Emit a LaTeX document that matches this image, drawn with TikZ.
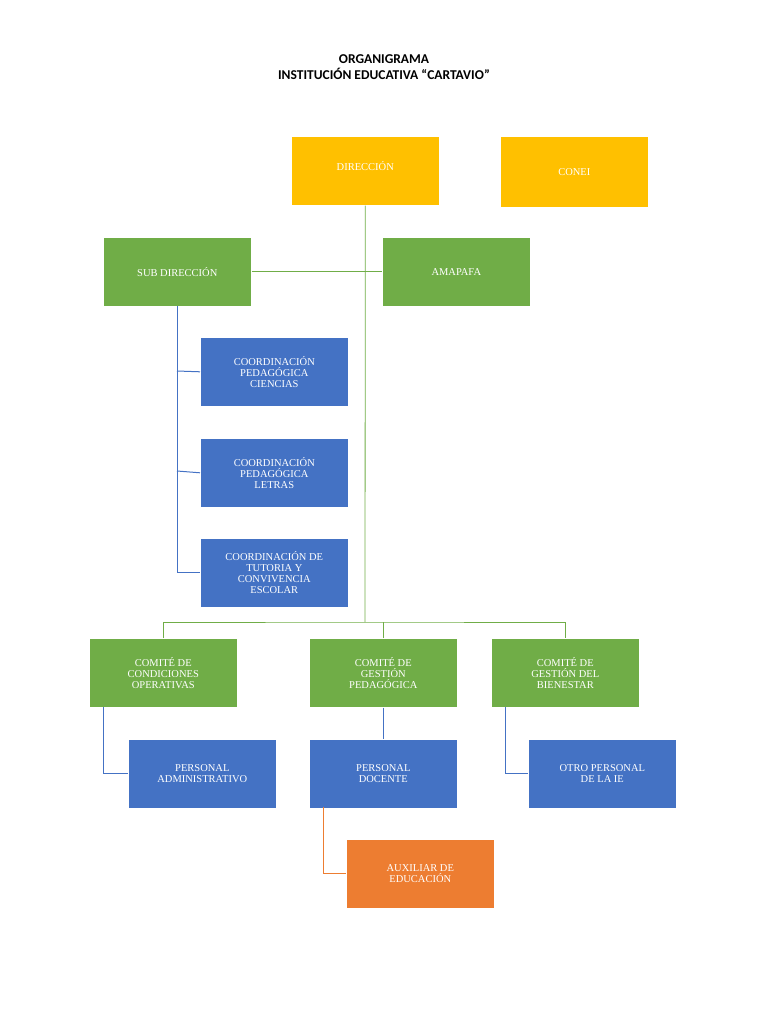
\documentclass[tikz,border=0pt]{standalone}
\usepackage{fontspec}
\setmainfont{Liberation Serif}
\newfontfamily\titlefont{Carlito}
\definecolor{cyel}{HTML}{FFC000}
\definecolor{cgrn}{HTML}{70AD47}
\definecolor{cblu}{HTML}{4472C4}
\definecolor{cora}{HTML}{ED7D31}
\begin{document}
\begin{tikzpicture}[x=1pt,y=-1pt,
 bx/.style={draw=white,line width=0.6pt,minimum width=148pt,minimum height=69pt,inner sep=2pt,
  text=white,align=center,font=\fontsize{10.5}{11}\selectfont,anchor=north west},
 yb/.style={bx,fill=cyel},gb/.style={bx,fill=cgrn},bb/.style={bx,fill=cblu},ob/.style={bx,fill=cora},
 gl/.style={draw=cgrn,line width=0.8pt},bl/.style={draw=cblu,line width=1pt},ol/.style={draw=cora,line width=0.8pt}]
\useasboundingbox (0,0) rectangle (768,1024);
\node[font=\titlefont\bfseries\fontsize{13.5}{16}\selectfont,align=center] (title) at (384,67) {ORGANIGRAMA\\INSTITUCIÓN EDUCATIVA “CARTAVIO”};
\node[yb,text depth=10pt] (dir) at (291,136) {DIRECCIÓN};
\node[yb,minimum height=71pt] (conei) at (500,136) {CONEI};
\node[gb] (sub) at (103,237) {SUB DIRECCIÓN};
\node[gb] (ama) at (382,237) {AMAPAFA};
\node[bb] (c1) at (200,337) {COORDINACIÓN\\PEDAGÓGICA\\CIENCIAS};
\node[bb] (c2) at (200,438) {COORDINACIÓN\\PEDAGÓGICA\\LETRAS};
\node[bb] (c3) at (200,538) {COORDINACIÓN DE\\TUTORIA Y\\CONVIVENCIA\\ESCOLAR};
\node[gb] (k1) at (89,638) {COMITÉ DE\\CONDICIONES\\OPERATIVAS};
\node[gb] (k2) at (309,638) {COMITÉ DE\\GESTIÓN\\PEDAGÓGICA};
\node[gb] (k3) at (491,638) {COMITÉ DE\\GESTIÓN DEL\\BIENESTAR};
\node[bb] (p1) at (128,739) {PERSONAL\\ADMINISTRATIVO};
\node[bb] (p2) at (309,739) {PERSONAL\\DOCENTE};
\node[bb] (p3) at (528,739) {OTRO PERSONAL\\DE LA IE};
\node[ob] (aux) at (346,839) {AUXILIAR DE\\EDUCACIÓN};
\coordinate (j) at (365,622);
\draw[gl] (dir.south) -- (j);
\draw[gl] (sub.east) -- (ama.west);
\draw[gl] (k1.north) |- (j) -| (k3.north);
\draw[gl] (k2.north) -- (k2.north |- j);
\draw[bl] (177,306) |- (c3.west);
\draw[bl] (177,371) -- (c1.west);
\draw[bl] (177,471) -- (c2.west);
\draw[bl] (103,707) |- (p1.west);
\draw[bl] (505,707) |- (p3.west);
\draw[bl] (k2.south) -- (p2.north);
\draw[ol] (323,807) |- (aux.west);
\end{tikzpicture}
\end{document}
